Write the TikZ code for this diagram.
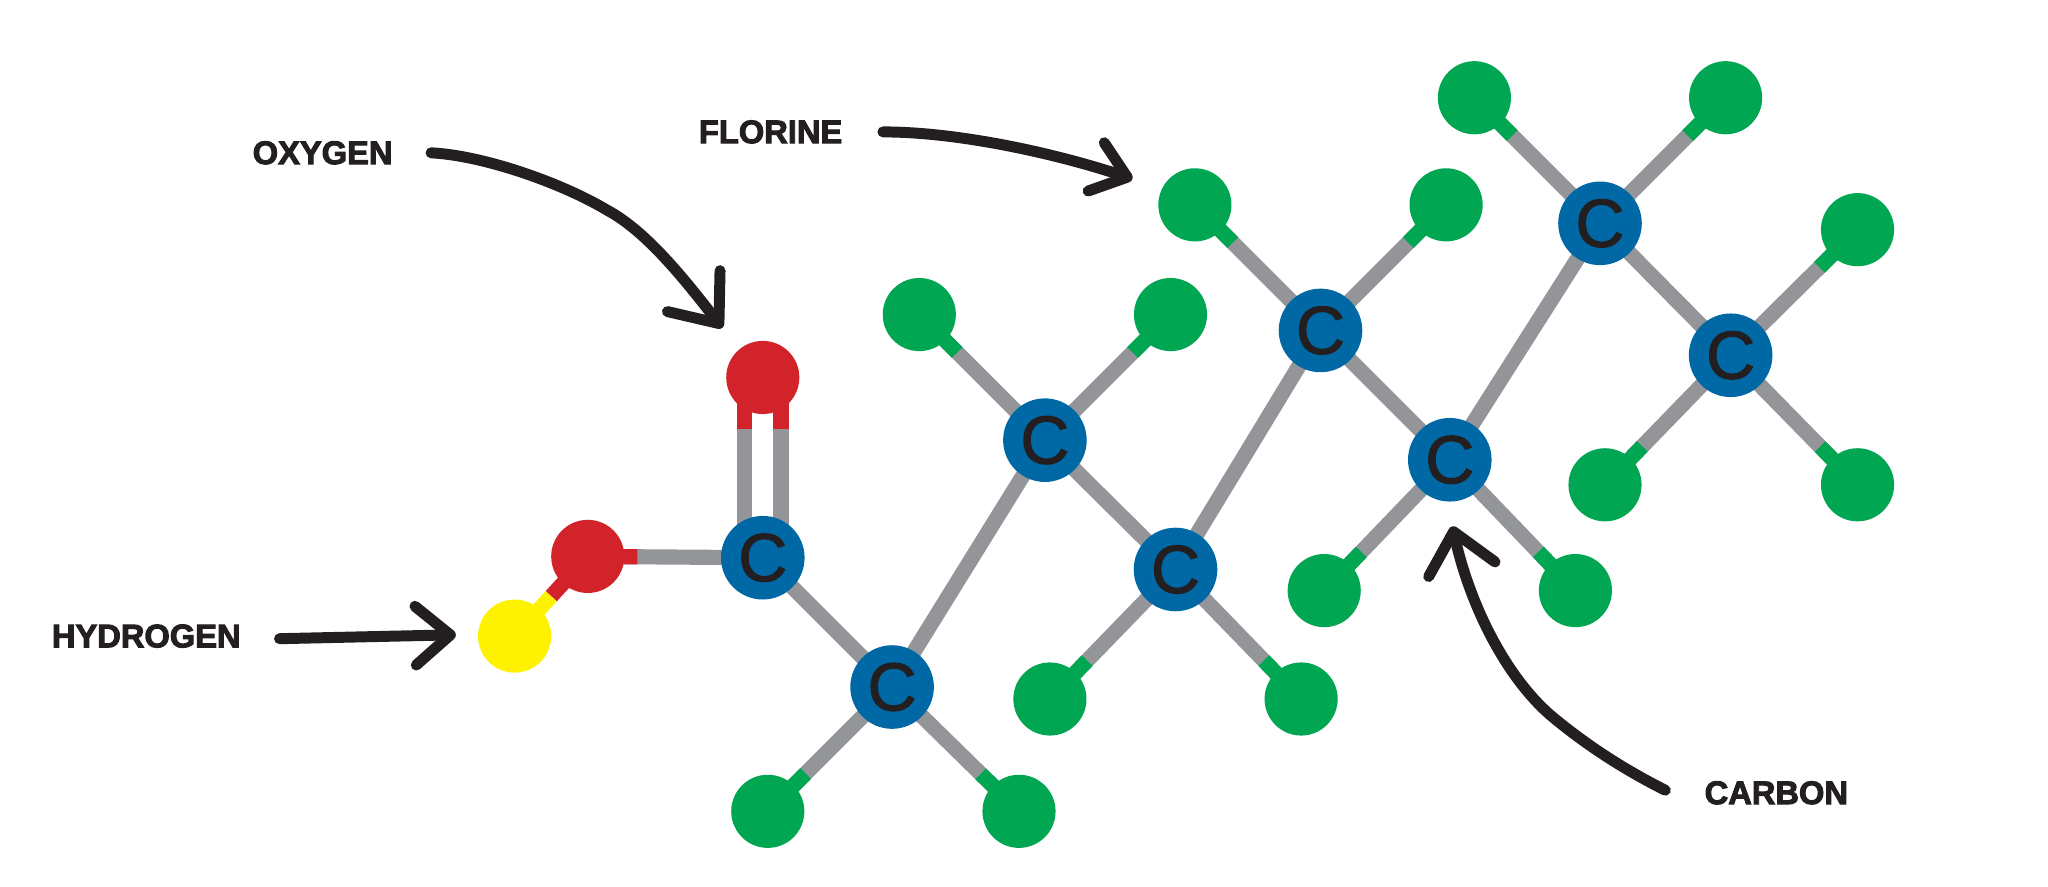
\documentclass[tikz,border=0pt]{standalone}
\usepackage{fontspec}
\setmainfont{Liberation Sans}
\newfontfamily\labelfont[FakeBold=3]{Liberation Sans Bold}
\newfontfamily\atomfont[FakeBold=1.6]{Liberation Sans}
\usetikzlibrary{arrows.meta,calc,backgrounds}
\definecolor{atomblue}{RGB}{0,104,165}
\definecolor{atomgreen}{RGB}{0,166,81}
\definecolor{atomred}{RGB}{210,35,42}
\definecolor{atomyellow}{RGB}{255,242,0}
\definecolor{bondgray}{RGB}{147,149,152}
\definecolor{inkblack}{RGB}{35,31,32}
\begin{document}
\begin{tikzpicture}[x=0.5pt, y=-0.5pt, node distance=68pt]
    \tikzstyle{carbon} = [circle, inner sep=0pt, minimum size=32pt, fill=atomblue, text=inkblack, font=\atomfont\fontsize{26}{26}\selectfont]
    \tikzstyle{fluorine} = [circle, inner sep=0pt, minimum size=28pt, fill=atomgreen]
    \tikzstyle{oxygen} = [circle, inner sep=0pt, minimum size=28pt, fill=atomred]
    \tikzstyle{hydrogen} = [circle, inner sep=0pt, minimum size=28pt, fill=atomyellow]
    \tikzstyle{bond} = [line width=5.8pt, draw=bondgray]
    \tikzstyle{fstub} = [line width=5.8pt, draw=atomgreen]
    \tikzstyle{ostub} = [line width=5.8pt, draw=atomred]
    \tikzstyle{hstub} = [line width=5.8pt, draw=atomyellow]
    \tikzstyle{tag} = [inner sep=0pt, text=inkblack, font=\labelfont\fontsize{12.5}{12.5}\selectfont]
    \tikzstyle{pointer} = [line width=4.2pt, draw=inkblack, line cap=round, line join=round]

    \useasboundingbox (0,0) rectangle (1568,679);

    % Carbon chain
    \node [carbon] (c1) at (584,427) {C};
    \node [carbon] (c2) at (683,526) {C};
    \node [carbon] (c3) at (800,337) {C};
    \node [carbon] (c4) at (900,436) {C};
    \node [carbon] (c5) at (1011,253) {C};
    \node [carbon] (c6) at (1110,352) {C};
    \node [carbon] (c7) at (1225,171) {C};
    \node [carbon] (c8) at (1325,272) {C};

    % Oxygen and hydrogen
    \node [oxygen] (o1) at (584,289) {};
    \node [oxygen] (o2) at (450,426) {};
    \node [hydrogen] (h1) at (394,487) {};

    % Fluorine
    \node [fluorine, below left of=c2, xshift=0.5pt, yshift=0.5pt] (f1) {};
    \node [fluorine, below right of=c2, xshift=0.5pt, yshift=0.5pt] (f2) {};
    \node [fluorine, above left of=c3] (f3) {};
    \node [fluorine, above right of=c3] (f4) {};
    \node [fluorine, below left of=c4, yshift=-1.5pt] (f5) {};
    \node [fluorine, below right of=c4, yshift=-1.5pt] (f6) {};
    \node [fluorine, above left of=c5] (f7) {};
    \node [fluorine, above right of=c5] (f8) {};
    \node [fluorine, below left of=c6, yshift=-2pt] (f9) {};
    \node [fluorine, below right of=c6, yshift=-2pt] (f10) {};
    \node [fluorine, above left of=c7] (f11) {};
    \node [fluorine, above right of=c7] (f12) {};
    \node [fluorine, below left of=c8, yshift=-1.5pt] (f13) {};
    \node [fluorine, below right of=c8, yshift=-1.5pt, xshift=0.5pt] (f14) {};
    \node [fluorine, above right of=c8, xshift=0.5pt] (f15) {};

    \begin{pgfonlayer}{background}
    % Chain bonds
    \draw [bond] (c1.center) -- (c2.center);
    \draw [bond] (c2.center) -- (c3.center);
    \draw [bond] (c3.center) -- (c4.center);
    \draw [bond] (c4.center) -- (c5.center);
    \draw [bond] (c5.center) -- (c6.center);
    \draw [bond] (c6.center) -- (c7.center);
    \draw [bond] (c7.center) -- (c8.center);

    % Oxygen bonds
    \draw [bond] ([xshift=-7pt]o1.center) -- ([xshift=-7pt]c1.center);
    \draw [bond] ([xshift=7pt]o1.center) -- ([xshift=7pt]c1.center);
    \draw [ostub] ([xshift=-7pt]o1.center) -- ++(0,39.5);
    \draw [ostub] ([xshift=7pt]o1.center) -- ++(0,39.5);
    \draw [bond] (o2.center) -- (c1.center);
    \draw [ostub] (o2.center) -- ($(o2)!19pt!(c1)$);
    \draw [ostub] (o2.center) -- ($(o2)!.5!(h1)$);
    \draw [hstub] (h1.center) -- ($(h1)!.5!(o2)$);

    % Fluorine bonds
    \draw [bond] (c2.center) -- (f1.center);
    \draw [bond] (c2.center) -- (f2.center);
    \draw [bond] (c3.center) -- (f3.center);
    \draw [bond] (c3.center) -- (f4.center);
    \draw [bond] (c4.center) -- (f5.center);
    \draw [bond] (c4.center) -- (f6.center);
    \draw [bond] (c5.center) -- (f7.center);
    \draw [bond] (c5.center) -- (f8.center);
    \draw [bond] (c6.center) -- (f9.center);
    \draw [bond] (c6.center) -- (f10.center);
    \draw [bond] (c7.center) -- (f11.center);
    \draw [bond] (c7.center) -- (f12.center);
    \draw [bond] (c8.center) -- (f13.center);
    \draw [bond] (c8.center) -- (f14.center);
    \draw [bond] (c8.center) -- (f15.center);

    \draw [fstub] (f1.center) -- ($(f1)!20.5pt!(c2)$);
    \draw [fstub] (f2.center) -- ($(f2)!20.5pt!(c2)$);
    \draw [fstub] (f3.center) -- ($(f3)!20.5pt!(c3)$);
    \draw [fstub] (f4.center) -- ($(f4)!20.5pt!(c3)$);
    \draw [fstub] (f5.center) -- ($(f5)!20.5pt!(c4)$);
    \draw [fstub] (f6.center) -- ($(f6)!20.5pt!(c4)$);
    \draw [fstub] (f7.center) -- ($(f7)!20.5pt!(c5)$);
    \draw [fstub] (f8.center) -- ($(f8)!20.5pt!(c5)$);
    \draw [fstub] (f9.center) -- ($(f9)!20.5pt!(c6)$);
    \draw [fstub] (f10.center) -- ($(f10)!20.5pt!(c6)$);
    \draw [fstub] (f11.center) -- ($(f11)!20.5pt!(c7)$);
    \draw [fstub] (f12.center) -- ($(f12)!20.5pt!(c7)$);
    \draw [fstub] (f13.center) -- ($(f13)!20.5pt!(c8)$);
    \draw [fstub] (f14.center) -- ($(f14)!20.5pt!(c8)$);
    \draw [fstub] (f15.center) -- ($(f15)!20.5pt!(c8)$);
    \end{pgfonlayer}

    % Labels
    \node [tag] (oxygentag) at (247,117) {OXYGEN};
    \node [tag] (florinetag) at (590,101) {FLORINE};
    \node [tag] (hydrogentag) at (112,487) {HYDROGEN};
    \node [tag] (carbontag) at (1360,607) {CARBON};

    % Pointers
    \coordinate (oxygenfrom) at (330,117);
    \coordinate (oxygenmid) at (465,161);
    \coordinate (oxygento) at (553,251);
    \coordinate (florinefrom) at (676,101);
    \coordinate (florineto) at (867,137);
    \coordinate (hydrogenfrom) at (214,489);
    \coordinate (hydrogento) at (349,486);
    \coordinate (carbonfrom) at (1275,605);
    \coordinate (carbonmid) at (1187,547.5);
    \coordinate (carbonto) at (1112,403);

    \draw [pointer, -{Straight Barb[round, length=15.7pt, width=25.5pt]}] (oxygenfrom) .. controls (370,119) and (430,140) .. (oxygenmid) .. controls (495,177) and (525,215) .. (oxygento);
    \draw [pointer, -{Straight Barb[round, length=12.5pt, width=19.5pt]}] (florinefrom) .. controls (735,101) and (810,118) .. (florineto);
    \draw [pointer, -{Straight Barb[round, length=13.3pt, width=22.5pt]}] (hydrogenfrom) -- (hydrogento);
    \draw [pointer, -{Straight Barb[round, length=14.7pt, width=26pt]}] (carbonfrom) .. controls (1245,590) and (1215,571) .. (carbonmid) .. controls (1152,517) and (1125,462) .. (carbonto);
\end{tikzpicture}
\end{document}
